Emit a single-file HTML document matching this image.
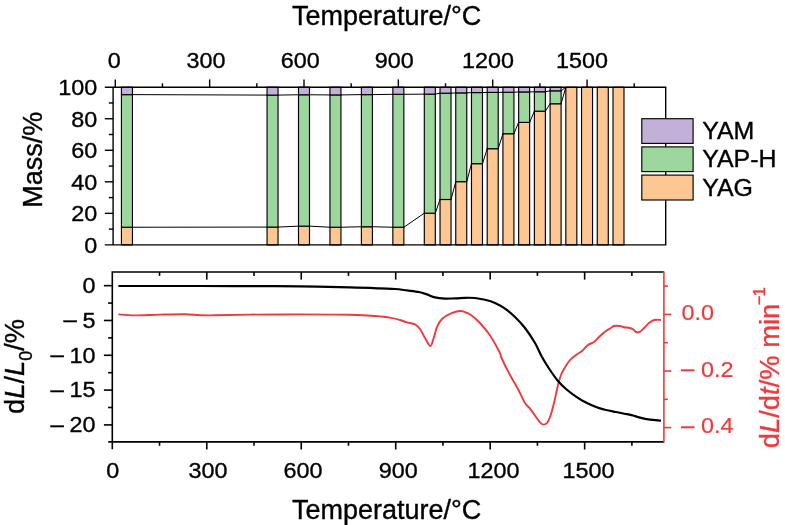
<!DOCTYPE html>
<html lang="en"><head><meta charset="utf-8"><title>Figure</title>
<style>html,body{margin:0;padding:0;background:#fff;overflow:hidden}svg{display:block}</style></head>
<body>
<svg width="785" height="525" viewBox="0 0 785 525" style="display:block" font-family='"Liberation Sans", Arial, Helvetica, sans-serif'>
<rect width="785" height="525" fill="#fff"/>
<g stroke="#000" stroke-width="1.15">
<rect x="121.44" y="227.24" width="11.0" height="17.66" fill="#fdc793"/>
<rect x="121.44" y="94.61" width="11.0" height="132.63" fill="#9dd79d"/>
<rect x="121.44" y="87.20" width="11.0" height="7.41" fill="#c2b0d8"/>
<rect x="267.05" y="227.08" width="11.0" height="17.82" fill="#fdc793"/>
<rect x="267.05" y="95.09" width="11.0" height="131.99" fill="#9dd79d"/>
<rect x="267.05" y="87.20" width="11.0" height="7.89" fill="#c2b0d8"/>
<rect x="298.50" y="226.13" width="11.0" height="18.77" fill="#fdc793"/>
<rect x="298.50" y="94.77" width="11.0" height="131.36" fill="#9dd79d"/>
<rect x="298.50" y="87.20" width="11.0" height="7.57" fill="#c2b0d8"/>
<rect x="329.95" y="227.24" width="11.0" height="17.66" fill="#fdc793"/>
<rect x="329.95" y="94.93" width="11.0" height="132.31" fill="#9dd79d"/>
<rect x="329.95" y="87.20" width="11.0" height="7.73" fill="#c2b0d8"/>
<rect x="361.40" y="226.76" width="11.0" height="18.14" fill="#fdc793"/>
<rect x="361.40" y="94.61" width="11.0" height="132.15" fill="#9dd79d"/>
<rect x="361.40" y="87.20" width="11.0" height="7.41" fill="#c2b0d8"/>
<rect x="392.85" y="227.24" width="11.0" height="17.66" fill="#fdc793"/>
<rect x="392.85" y="94.30" width="11.0" height="132.94" fill="#9dd79d"/>
<rect x="392.85" y="87.20" width="11.0" height="7.10" fill="#c2b0d8"/>
<rect x="424.30" y="213.20" width="11.0" height="31.70" fill="#fdc793"/>
<rect x="424.30" y="94.14" width="11.0" height="119.06" fill="#9dd79d"/>
<rect x="424.30" y="87.20" width="11.0" height="6.94" fill="#c2b0d8"/>
<rect x="440.03" y="199.48" width="11.0" height="45.42" fill="#fdc793"/>
<rect x="440.03" y="93.19" width="11.0" height="106.29" fill="#9dd79d"/>
<rect x="440.03" y="87.20" width="11.0" height="5.99" fill="#c2b0d8"/>
<rect x="455.75" y="181.66" width="11.0" height="63.24" fill="#fdc793"/>
<rect x="455.75" y="92.88" width="11.0" height="88.79" fill="#9dd79d"/>
<rect x="455.75" y="87.20" width="11.0" height="5.68" fill="#c2b0d8"/>
<rect x="471.48" y="163.68" width="11.0" height="81.22" fill="#fdc793"/>
<rect x="471.48" y="92.56" width="11.0" height="71.12" fill="#9dd79d"/>
<rect x="471.48" y="87.20" width="11.0" height="5.36" fill="#c2b0d8"/>
<rect x="487.20" y="148.70" width="11.0" height="96.20" fill="#fdc793"/>
<rect x="487.20" y="92.40" width="11.0" height="56.30" fill="#9dd79d"/>
<rect x="487.20" y="87.20" width="11.0" height="5.20" fill="#c2b0d8"/>
<rect x="502.93" y="133.72" width="11.0" height="111.18" fill="#fdc793"/>
<rect x="502.93" y="92.25" width="11.0" height="41.48" fill="#9dd79d"/>
<rect x="502.93" y="87.20" width="11.0" height="5.05" fill="#c2b0d8"/>
<rect x="518.65" y="122.37" width="11.0" height="122.53" fill="#fdc793"/>
<rect x="518.65" y="91.93" width="11.0" height="30.44" fill="#9dd79d"/>
<rect x="518.65" y="87.20" width="11.0" height="4.73" fill="#c2b0d8"/>
<rect x="534.38" y="111.17" width="11.0" height="133.73" fill="#fdc793"/>
<rect x="534.38" y="91.77" width="11.0" height="19.40" fill="#9dd79d"/>
<rect x="534.38" y="87.20" width="11.0" height="4.57" fill="#c2b0d8"/>
<rect x="550.10" y="103.76" width="11.0" height="141.14" fill="#fdc793"/>
<rect x="550.10" y="90.83" width="11.0" height="12.93" fill="#9dd79d"/>
<rect x="550.10" y="87.20" width="11.0" height="3.63" fill="#c2b0d8"/>
<rect x="565.82" y="87.20" width="11.0" height="157.70" fill="#fdc793"/>
<rect x="581.55" y="87.20" width="11.0" height="157.70" fill="#fdc793"/>
<rect x="597.27" y="87.20" width="11.0" height="157.70" fill="#fdc793"/>
<rect x="613.00" y="87.20" width="11.0" height="157.70" fill="#fdc793"/>
</g>
<g stroke="#000" stroke-width="1.0" fill="none">
<line x1="132.44" y1="227.24" x2="267.05" y2="227.08"/>
<line x1="132.44" y1="94.61" x2="267.05" y2="95.09"/>
<line x1="278.05" y1="227.08" x2="298.50" y2="226.13"/>
<line x1="278.05" y1="95.09" x2="298.50" y2="94.77"/>
<line x1="309.50" y1="226.13" x2="329.95" y2="227.24"/>
<line x1="309.50" y1="94.77" x2="329.95" y2="94.93"/>
<line x1="340.95" y1="227.24" x2="361.40" y2="226.76"/>
<line x1="340.95" y1="94.93" x2="361.40" y2="94.61"/>
<line x1="372.40" y1="226.76" x2="392.85" y2="227.24"/>
<line x1="372.40" y1="94.61" x2="392.85" y2="94.30"/>
<line x1="403.85" y1="227.24" x2="424.30" y2="213.20"/>
<line x1="403.85" y1="94.30" x2="424.30" y2="94.14"/>
<line x1="435.30" y1="213.20" x2="440.03" y2="199.48"/>
<line x1="435.30" y1="94.14" x2="440.03" y2="93.19"/>
<line x1="451.03" y1="199.48" x2="455.75" y2="181.66"/>
<line x1="451.03" y1="93.19" x2="455.75" y2="92.88"/>
<line x1="466.75" y1="181.66" x2="471.48" y2="163.68"/>
<line x1="466.75" y1="92.88" x2="471.48" y2="92.56"/>
<line x1="482.48" y1="163.68" x2="487.20" y2="148.70"/>
<line x1="482.48" y1="92.56" x2="487.20" y2="92.40"/>
<line x1="498.20" y1="148.70" x2="502.93" y2="133.72"/>
<line x1="498.20" y1="92.40" x2="502.93" y2="92.25"/>
<line x1="513.92" y1="133.72" x2="518.65" y2="122.37"/>
<line x1="513.92" y1="92.25" x2="518.65" y2="91.93"/>
<line x1="529.65" y1="122.37" x2="534.38" y2="111.17"/>
<line x1="529.65" y1="91.93" x2="534.38" y2="91.77"/>
<line x1="545.38" y1="111.17" x2="550.10" y2="103.76"/>
<line x1="545.38" y1="91.77" x2="550.10" y2="90.83"/>
<line x1="561.10" y1="103.76" x2="565.82" y2="87.20"/>
<line x1="561.10" y1="90.83" x2="565.82" y2="87.20"/>
</g>
<g stroke="#000" stroke-width="1.4" fill="none">
<path d="M113.1 87.2V244.9"/>
<path d="M104.8 87.2H665.7V244.9H104.8"/>
<path d="M115.30 87.2v-7.8"/>
<path d="M162.47 87.2v-3.9"/>
<path d="M209.65 87.2v-7.8"/>
<path d="M256.82 87.2v-3.9"/>
<path d="M304.00 87.2v-7.8"/>
<path d="M351.18 87.2v-3.9"/>
<path d="M398.35 87.2v-7.8"/>
<path d="M445.53 87.2v-3.9"/>
<path d="M492.70 87.2v-7.8"/>
<path d="M539.88 87.2v-3.9"/>
<path d="M587.05 87.2v-7.8"/>
<path d="M634.22 87.2v-3.9"/>
<path d="M113.1 229.13h-4.3"/>
<path d="M113.1 213.36h-8.3"/>
<path d="M113.1 197.59h-4.3"/>
<path d="M113.1 181.82h-8.3"/>
<path d="M113.1 166.05h-4.3"/>
<path d="M113.1 150.28h-8.3"/>
<path d="M113.1 134.51h-4.3"/>
<path d="M113.1 118.74h-8.3"/>
<path d="M113.1 102.97h-4.3"/>
</g>
<g font-size="22.7" fill="#000" stroke="#000" stroke-width="0.35">
<text transform="translate(114.20 67.90) scale(1.03 1)" text-anchor="middle">0</text>
<text transform="translate(205.90 67.90) scale(1.03 1)" text-anchor="middle">300</text>
<text transform="translate(300.30 67.90) scale(1.03 1)" text-anchor="middle">600</text>
<text transform="translate(394.20 67.90) scale(1.03 1)" text-anchor="middle">900</text>
<text transform="translate(487.90 67.90) scale(1.03 1)" text-anchor="middle">1200</text>
<text transform="translate(581.90 67.90) scale(1.03 1)" text-anchor="middle">1500</text>
<text transform="translate(97.30 253.00) scale(1.03 1)" text-anchor="end">0</text>
<text transform="translate(97.30 221.46) scale(1.03 1)" text-anchor="end">20</text>
<text transform="translate(97.30 189.92) scale(1.03 1)" text-anchor="end">40</text>
<text transform="translate(97.30 158.38) scale(1.03 1)" text-anchor="end">60</text>
<text transform="translate(97.30 126.84) scale(1.03 1)" text-anchor="end">80</text>
<text transform="translate(97.30 95.30) scale(1.03 1)" text-anchor="end">100</text>
</g>
<text x="386.7" y="24.7" font-size="27.0" text-anchor="middle" stroke="#000" stroke-width="0.35">Temperature/°C</text>
<text transform="translate(42.0 159.8) rotate(-90)" font-size="27.0" text-anchor="middle" stroke="#000" stroke-width="0.35">Mass/%</text>
<g stroke="#000" stroke-width="1.15">
<rect x="641.8" y="118.7" width="51.3" height="24.70" fill="#c2b0d8"/>
<rect x="641.8" y="146.9" width="51.3" height="24.70" fill="#9dd79d"/>
<rect x="641.8" y="175.1" width="51.3" height="24.90" fill="#fdc793"/>
</g>
<g font-size="23.3" fill="#000" stroke="#000" stroke-width="0.35">
<text transform="translate(702.20 138.70) scale(1.07 1)" text-anchor="start">YAM</text>
<text transform="translate(702.20 167.00) scale(1.07 1)" text-anchor="start">YAP-H</text>
<text transform="translate(702.20 195.60) scale(1.07 1)" text-anchor="start">YAG</text>
</g>
<path d="M118.4 314.4C121.2 314.6 128.1 315.4 135.0 315.4C141.9 315.4 151.7 314.8 160.0 314.6C168.3 314.4 178.3 314.1 185.0 314.2C191.7 314.3 195.0 315.0 200.0 315.2C205.0 315.4 206.7 315.4 215.0 315.3C223.3 315.2 235.8 314.8 250.0 314.6C264.2 314.5 283.3 314.4 300.0 314.4C316.7 314.4 337.5 314.5 350.0 314.8C362.5 315.1 368.3 315.5 375.0 316.0C381.7 316.5 385.8 316.9 390.0 317.6C394.2 318.3 397.2 319.2 400.0 320.0C402.8 320.8 404.5 321.7 407.0 322.4C409.5 323.1 412.8 323.3 415.0 324.4C417.2 325.5 418.3 326.7 420.0 329.0C421.7 331.3 423.3 335.2 425.0 338.0C426.7 340.8 428.9 346.2 430.4 346.0C431.9 345.8 432.9 340.2 434.0 337.0C435.1 333.8 435.7 330.0 437.0 327.0C438.3 324.0 439.7 321.3 442.0 319.0C444.3 316.7 448.0 314.7 451.0 313.4C454.0 312.1 457.7 311.2 460.0 311.0C462.3 310.8 463.2 311.3 465.0 312.0C466.8 312.7 468.7 313.3 471.0 315.0C473.3 316.7 476.0 318.8 479.0 322.0C482.0 325.2 485.7 329.2 489.0 334.0C492.3 338.8 496.8 346.8 499.0 351.0C501.2 355.2 500.2 355.0 502.0 359.0C503.8 363.0 507.3 370.0 510.0 375.0C512.7 380.0 515.5 384.3 518.0 389.0C520.5 393.7 523.0 399.7 525.0 403.0C527.0 406.3 528.2 406.3 530.0 408.6C531.8 410.9 534.2 414.5 536.0 417.0C537.8 419.5 539.7 422.1 541.0 423.4C542.3 424.7 543.0 424.7 544.0 424.6C545.0 424.5 546.0 424.3 547.0 423.0C548.0 421.7 548.8 420.3 550.0 417.0C551.2 413.7 552.7 408.3 554.0 403.0C555.3 397.7 556.8 389.7 558.0 385.0C559.2 380.3 560.0 377.7 561.0 375.0C562.0 372.3 562.5 371.5 564.0 369.0C565.5 366.5 568.0 362.3 570.0 360.0C572.0 357.7 574.0 356.5 576.0 355.0C578.0 353.5 580.0 352.7 582.0 351.0C584.0 349.3 586.0 346.5 588.0 345.0C590.0 343.5 592.0 343.5 594.0 342.0C596.0 340.5 598.0 337.8 600.0 336.0C602.0 334.2 604.3 332.2 606.0 331.0C607.7 329.8 608.7 329.4 610.0 328.6C611.3 327.8 612.3 326.4 614.0 326.0C615.7 325.6 618.3 325.8 620.0 326.0C621.7 326.2 622.3 326.9 624.0 327.2C625.7 327.5 628.3 327.5 630.0 328.0C631.7 328.5 633.0 329.3 634.0 330.0C635.0 330.7 635.0 331.7 636.0 332.0C637.0 332.3 638.7 332.3 640.0 331.6C641.3 330.9 642.5 329.4 644.0 328.0C645.5 326.6 647.3 324.3 649.0 323.0C650.7 321.7 652.0 320.5 654.0 320.0C656.0 319.5 659.8 320.0 661.0 320.0" fill="none" stroke="#ee3a3c" stroke-width="1.9" stroke-linejoin="round"/>
<path d="M118.4 286.0C132.0 286.0 178.1 286.0 200.0 286.0C221.9 286.0 233.3 286.0 250.0 286.1C266.7 286.2 283.3 286.2 300.0 286.4C316.7 286.6 336.7 287.1 350.0 287.4C363.3 287.7 372.5 288.1 380.0 288.4C387.5 288.7 390.5 288.7 395.0 289.0C399.5 289.3 403.0 289.9 407.0 290.4C411.0 290.9 415.7 291.3 419.0 292.0C422.3 292.7 424.3 293.5 427.0 294.4C429.7 295.3 432.0 296.7 435.0 297.4C438.0 298.1 441.7 298.4 445.0 298.6C448.3 298.8 451.7 298.5 455.0 298.4C458.3 298.3 461.7 297.9 465.0 297.8C468.3 297.7 471.7 297.7 475.0 298.0C478.3 298.3 481.7 299.0 485.0 299.8C488.3 300.6 491.7 301.5 495.0 303.0C498.3 304.5 501.7 306.3 505.0 308.6C508.3 310.9 511.7 313.8 515.0 317.0C518.3 320.2 521.7 323.7 525.0 328.0C528.3 332.3 532.2 338.2 535.0 343.0C537.8 347.8 539.5 352.5 542.0 357.0C544.5 361.5 547.3 366.0 550.0 370.0C552.7 374.0 555.3 377.8 558.0 381.0C560.7 384.2 563.0 386.4 566.0 389.0C569.0 391.6 572.7 394.3 576.0 396.6C579.3 398.9 582.7 400.9 586.0 402.6C589.3 404.3 592.7 405.8 596.0 407.0C599.3 408.2 602.7 409.2 606.0 410.0C609.3 410.8 612.5 411.3 616.0 412.0C619.5 412.7 624.2 413.6 627.0 414.2C629.8 414.8 630.8 414.9 633.0 415.5C635.2 416.1 637.2 416.9 640.0 417.6C642.8 418.3 646.5 419.1 650.0 419.6C653.5 420.1 659.2 420.4 661.0 420.6" fill="none" stroke="#000" stroke-width="2.2" stroke-linejoin="round"/>
<g stroke="#000" stroke-width="1.6" fill="none">
<path d="M112.3 449.29999999999995V272.0H663.9"/>
<path d="M108.3 441.9H663.9"/>
<path d="M159.53 441.9v3.9"/>
<path d="M159.53 272.0v3.9"/>
<path d="M206.77 441.9v7.6"/>
<path d="M206.77 272.0v7.6"/>
<path d="M254.00 441.9v3.9"/>
<path d="M254.00 272.0v3.9"/>
<path d="M301.24 441.9v7.6"/>
<path d="M301.24 272.0v7.6"/>
<path d="M348.48 441.9v3.9"/>
<path d="M348.48 272.0v3.9"/>
<path d="M395.71 441.9v7.6"/>
<path d="M395.71 272.0v7.6"/>
<path d="M442.95 441.9v3.9"/>
<path d="M442.95 272.0v3.9"/>
<path d="M490.18 441.9v7.6"/>
<path d="M490.18 272.0v7.6"/>
<path d="M537.41 441.9v3.9"/>
<path d="M537.41 272.0v3.9"/>
<path d="M584.65 441.9v7.6"/>
<path d="M584.65 272.0v7.6"/>
<path d="M631.88 441.9v3.9"/>
<path d="M631.88 272.0v3.9"/>
<path d="M112.3 285.66h-8.4"/>
<path d="M112.3 303.07h-4.2"/>
<path d="M112.3 320.47h-8.4"/>
<path d="M112.3 337.88h-4.2"/>
<path d="M112.3 355.28h-8.4"/>
<path d="M112.3 372.69h-4.2"/>
<path d="M112.3 390.09h-8.4"/>
<path d="M112.3 407.50h-4.2"/>
<path d="M112.3 424.90h-8.4"/>
</g>
<g stroke="#ee3a3c" stroke-width="1.6" fill="none">
<path d="M663.9 271.5V442.4"/>
<path d="M663.9 286.10h4"/>
<path d="M663.9 314.40h7.4"/>
<path d="M663.9 342.70h4"/>
<path d="M663.9 371.00h7.4"/>
<path d="M663.9 399.30h4"/>
<path d="M663.9 427.60h7.4"/>
</g>
<g font-size="22.7" fill="#000" stroke="#000" stroke-width="0.35">
<text transform="translate(112.80 477.70) scale(1.03 1)" text-anchor="middle">0</text>
<text transform="translate(207.90 477.70) scale(1.03 1)" text-anchor="middle">300</text>
<text transform="translate(303.10 477.70) scale(1.03 1)" text-anchor="middle">600</text>
<text transform="translate(398.20 477.70) scale(1.03 1)" text-anchor="middle">900</text>
<text transform="translate(493.50 477.70) scale(1.03 1)" text-anchor="middle">1200</text>
<text transform="translate(588.60 477.70) scale(1.03 1)" text-anchor="middle">1500</text>
<text transform="translate(95.50 293.06) scale(1.03 1)" text-anchor="end">0</text>
<text transform="translate(95.50 327.87) scale(1.03 1)" text-anchor="end">5</text>
<text transform="translate(78.20 329.37) scale(1.2 1)" text-anchor="end">−</text>
<text transform="translate(95.50 362.68) scale(1.03 1)" text-anchor="end">10</text>
<text transform="translate(65.10 364.18) scale(1.2 1)" text-anchor="end">−</text>
<text transform="translate(95.50 397.49) scale(1.03 1)" text-anchor="end">15</text>
<text transform="translate(65.10 398.99) scale(1.2 1)" text-anchor="end">−</text>
<text transform="translate(95.50 432.30) scale(1.03 1)" text-anchor="end">20</text>
<text transform="translate(65.10 433.80) scale(1.2 1)" text-anchor="end">−</text>
</g>
<g font-size="22.7" fill="#ee3a3c" stroke="#ee3a3c" stroke-width="0.2">
<text transform="translate(681.40 320.10) scale(1.03 1)" text-anchor="start">0.0</text>
<text transform="translate(679.80 378.40) scale(1.2 1)" text-anchor="start">−</text>
<text transform="translate(701.00 376.70) scale(1.03 1)" text-anchor="start">0.2</text>
<text transform="translate(679.80 435.00) scale(1.2 1)" text-anchor="start">−</text>
<text transform="translate(701.00 433.30) scale(1.03 1)" text-anchor="start">0.4</text>
</g>
<text x="386.6" y="518.7" font-size="27.0" text-anchor="middle" stroke="#000" stroke-width="0.35">Temperature/°C</text>
<text transform="translate(24.2 414.0) rotate(-90)" font-size="27.35" stroke="#000" stroke-width="0.35">d<tspan font-style="italic">L</tspan>/<tspan font-style="italic">L</tspan><tspan font-size="17.8" dy="7.6">0</tspan><tspan dy="-7.6">/%</tspan></text>
<text transform="translate(779.3 448.2) rotate(-90)" font-size="27.35" fill="#ee3a3c" stroke="#ee3a3c" stroke-width="0.35">d<tspan font-style="italic">L</tspan>/d<tspan font-style="italic">t</tspan>/% min<tspan font-size="17" dy="-14.2" dx="-1.5">−<tspan dx="-1.2">1</tspan></tspan></text>
</svg>
</body></html>
